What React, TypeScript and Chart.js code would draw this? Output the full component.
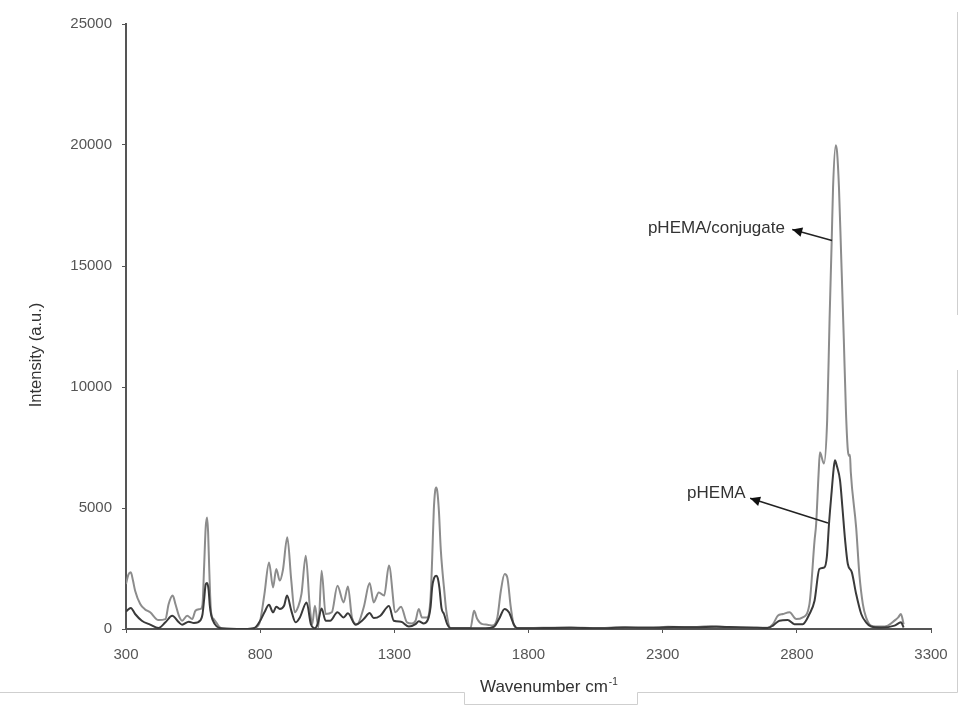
import React, { useEffect, useRef } from "react";
import Chart from "chart.js/auto";

const FONT = "'Liberation Sans', Arial, sans-serif";

// pHEMA/conjugate spectrum (one line of wavenumbers = one line of intensities)
const conjugateWave = [
  300, 309, 318, 326, 334, 353, 370, 390, 421, 447, 459, 474, 485, 497, 509, 528, 547, 559, 578,
  585, 591, 597, 602, 606, 610, 617, 628, 647, 660, 741, 785,
  800, 816, 833, 848, 860, 873, 885, 901, 916, 929, 941, 954, 970, 985, 994, 1004, 1017, 1029, 1044,
  1067, 1088, 1111, 1127, 1142, 1161, 1186, 1208, 1223, 1242, 1262, 1280, 1304, 1325, 1347, 1366, 1379, 1391, 1403, 1422,
  1435, 1441, 1447, 1452, 1456, 1460, 1466, 1473, 1480, 1486, 1493, 1510,
  1584, 1597, 1609, 1628, 1647, 1665, 1684, 1697, 1711, 1721, 1734, 1746, 1759,
  1850, 1950, 2050, 2150, 2250, 2320, 2400, 2480, 2550, 2620, 2690,
  2711, 2729, 2748, 2773, 2798, 2822, 2847, 2866, 2872, 2881, 2886, 2901, 2913, 2922, 2930, 2935, 2945,
  2950, 2957, 2965, 2975, 2983, 2990, 2995, 2998, 3001, 3021, 3033,
  3046, 3058, 3077, 3114, 3139, 3164, 3178, 3188, 3198,
];
const conjugateIntensity = [
  1860, 2250, 2340, 2000, 1580, 1030, 820, 690, 370, 410, 1030, 1380, 1000, 550, 340, 550, 410, 760, 830,
  1000, 2550, 4200, 4610, 4000, 2550, 700, 400, 100, 14, 0, 70,
  340, 1450, 2750, 1720, 2480, 2000, 2450, 3790, 2000, 690, 900, 1450, 3030, 900, 200, 960, 70, 2410, 620,
  690, 1790, 1100, 1760, 480, 200, 900, 1900, 1100, 1510, 1380, 2620, 690, 920, 275, 230, 340, 830, 480, 480,
  1300, 2900, 4900, 5700, 5850, 5700, 4900, 3300, 2300, 1600, 800, 40,
  40, 750, 410, 200, 180, 140, 480, 1580, 2270, 2130, 900, 140, 40,
  50, 60, 40, 70, 60, 90, 80, 110, 80, 60, 50,
  200, 550, 620, 690, 410, 480, 1030, 3650, 4340, 6400, 7300, 6840, 8620, 12800, 16060, 18250, 19990,
  19700, 18250, 15500, 12000, 9000, 7400, 7150, 7200, 6500, 4200, 2270,
  1030, 480, 140, 100, 140, 345, 480, 620, 200,
];

// pHEMA spectrum
const phemaWave = [
  300, 318, 334, 359, 390, 421, 447, 472, 497, 509, 534, 553, 578,
  585, 591, 597, 602, 608, 612, 618, 630, 653, 741, 779,
  800, 816, 833, 848, 860, 873, 889, 900, 916, 932, 948, 973, 989, 1004, 1014, 1029, 1044, 1061,
  1088, 1111, 1127, 1155, 1186, 1208, 1223, 1248, 1280, 1298, 1325, 1354, 1379, 1391, 1410, 1428,
  1435, 1441, 1448, 1456, 1462, 1468, 1476, 1485, 1497, 1510,
  1640, 1672, 1690, 1711, 1727, 1746, 1759,
  1860, 1960, 2060, 2160, 2260, 2340, 2420, 2500, 2570, 2640, 2690,
  2711, 2735, 2766, 2791, 2822, 2847, 2866, 2884, 2903, 2912, 2920, 2930, 2937, 2942,
  2950, 2961, 2970, 2980, 2990, 3005, 3021, 3040, 3058, 3077,
  3114, 3164, 3188, 3198,
];
const phemaIntensity = [
  730, 870, 620, 340, 180, 40, 275, 550, 275, 180, 300, 250, 370,
  600, 1200, 1850, 1900, 1600, 1000, 550, 220, 30, 0, 40,
  340, 690, 1000, 690, 920, 830, 960, 1380, 760, 275, 480, 1100, 200, 30, 200, 850, 340, 340,
  690, 480, 650, 180, 410, 660, 450, 550, 950, 340, 300, 100, 200, 320, 230, 480,
  900, 1720, 2100, 2200, 2100, 1700, 850, 620, 200, 30,
  30, 100, 410, 830, 690, 180, 30,
  40, 50, 30, 60, 50, 80, 70, 90, 70, 50, 40,
  140, 345, 370, 200, 200, 620, 1170, 2480, 2550, 3000, 4360, 5710, 6600, 6970,
  6700, 6140, 5000, 3660, 2685, 2340, 1450, 620, 275, 100,
  60, 140, 275, 60,
];

const xTicks = [300, 800, 1300, 1800, 2300, 2800, 3300];
const yTicks = [0, 5000, 10000, 15000, 20000, 25000];

// callouts, in axis units
const callouts = [
  { label: "pHEMA/conjugate", textX: 2245, textY: 16570, fromX: 2931, fromY: 16055, toX: 2783, toY: 16510 },
  { label: "pHEMA", textX: 2391, textY: 5600, fromX: 2916, fromY: 4380, toX: 2626, toY: 5400 },
];

const toPoints = (xs: number[], ys: number[]) => xs.map((x, i) => ({ x, y: ys[i] }));

const overlayPlugin = {
  id: "overlay",
  afterDraw(chart: any) {
    const { ctx, scales } = chart;
    const { x, y } = scales;
    ctx.save();

    // leftover frame of the pasted figure
    ctx.strokeStyle = "#cfcfcf";
    ctx.lineWidth = 1;
    ctx.beginPath();
    ctx.moveTo(957.5, 12);
    ctx.lineTo(957.5, 315);
    ctx.moveTo(957.5, 370);
    ctx.lineTo(957.5, 692.5);
    ctx.lineTo(637.5, 692.5);
    ctx.lineTo(637.5, 704.5);
    ctx.lineTo(464.5, 704.5);
    ctx.lineTo(464.5, 692.5);
    ctx.lineTo(0, 692.5);
    ctx.stroke();

    // x axis title with superscript
    ctx.fillStyle = "#333";
    ctx.textBaseline = "middle";
    ctx.textAlign = "left";
    ctx.font = `17px ${FONT}`;
    ctx.fillText("Wavenumber cm", 480, 687);
    const w = ctx.measureText("Wavenumber cm").width;
    ctx.font = `10px ${FONT}`;
    ctx.fillText("-1", 480 + w + 1, 682);

    // y axis title sits below the axis middle in the original
    ctx.save();
    ctx.translate(36, 355);
    ctx.rotate(-Math.PI / 2);
    ctx.textAlign = "center";
    ctx.font = `16.5px ${FONT}`;
    ctx.fillStyle = "#333";
    ctx.fillText("Intensity (a.u.)", 0, 0);
    ctx.restore();

    // callouts
    callouts.forEach((c) => {
      ctx.font = `17px ${FONT}`;
      ctx.fillStyle = "#333";
      ctx.fillText(c.label, x.getPixelForValue(c.textX), y.getPixelForValue(c.textY));

      const x1 = x.getPixelForValue(c.fromX);
      const y1 = y.getPixelForValue(c.fromY);
      const x2 = x.getPixelForValue(c.toX);
      const y2 = y.getPixelForValue(c.toY);
      const a = Math.atan2(y2 - y1, x2 - x1);
      ctx.strokeStyle = "#222";
      ctx.lineWidth = 1.5;
      ctx.beginPath();
      ctx.moveTo(x1, y1);
      ctx.lineTo(x2, y2);
      ctx.stroke();
      ctx.fillStyle = "#111";
      ctx.beginPath();
      ctx.moveTo(x2, y2);
      ctx.lineTo(x2 - 11 * Math.cos(a - 0.45), y2 - 11 * Math.sin(a - 0.45));
      ctx.lineTo(x2 - 11 * Math.cos(a + 0.45), y2 - 11 * Math.sin(a + 0.45));
      ctx.closePath();
      ctx.fill();
    });
    ctx.restore();
  },
};

const App = () => {
  const chartRef = useRef<HTMLCanvasElement>(null);

  useEffect(() => {
    if (!chartRef.current) return;
    const chart = new Chart(chartRef.current, {
      type: "scatter",
      data: {
        datasets: [
          {
            label: "pHEMA",
            data: toPoints(phemaWave, phemaIntensity),
            showLine: true,
            borderColor: "#3a3a3a",
            borderWidth: 2,
            pointRadius: 0,
            cubicInterpolationMode: "monotone",
            order: 0,
          },
          {
            label: "pHEMA/conjugate",
            data: toPoints(conjugateWave, conjugateIntensity),
            showLine: true,
            borderColor: "#8c8c8c",
            borderWidth: 2,
            pointRadius: 0,
            cubicInterpolationMode: "monotone",
            order: 1,
          },
        ],
      },
      options: {
        animation: false,
        responsive: false,
        devicePixelRatio: 1,
        layout: { padding: { top: 24, right: 46, left: 0, bottom: 0 } },
        plugins: { legend: { display: false }, tooltip: { enabled: false } },
        scales: {
          x: {
            type: "linear",
            min: 300,
            max: 3300,
            afterFit: (scale: any) => {
              scale.height = 89;
            },
            afterBuildTicks: (scale: any) => {
              scale.ticks = xTicks.map((value) => ({ value }));
            },
            border: { color: "#555", width: 2 },
            grid: { drawOnChartArea: false, color: "#555", tickLength: 4 },
            ticks: { color: "#555", padding: 13, maxRotation: 0, font: { family: FONT, size: 15 }, callback: (v: any) => String(v) },
          },
          y: {
            min: 0,
            max: 25000,
            afterFit: (scale: any) => {
              scale.width = 126;
            },
            afterBuildTicks: (scale: any) => {
              scale.ticks = yTicks.map((value) => ({ value }));
            },
            border: { color: "#555", width: 2 },
            grid: { drawOnChartArea: false, color: "#555", tickLength: 4 },
            ticks: { color: "#555", padding: 10, font: { family: FONT, size: 15 }, callback: (v: any) => String(v) },
          },
        },
      },
      plugins: [overlayPlugin],
    } as any);

    return () => {
      chart.destroy();
    };
  }, []);

  return (
    <canvas
      ref={chartRef}
      width={977}
      height={718}
      style={{ position: "fixed", left: 0, top: 0, width: 977, height: 718, background: "#fff", filter: "blur(0.5px)" }}
    />
  );
};

export default App;
